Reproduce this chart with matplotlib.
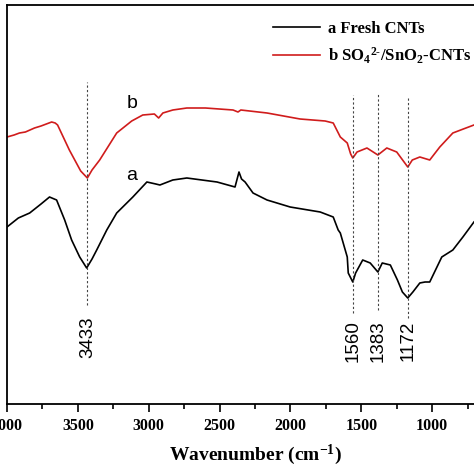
import matplotlib
matplotlib.use("Agg")
import matplotlib.pyplot as plt
import numpy as np

plt.rcParams['font.family'] = ['Liberation Serif', 'DejaVu Serif']
plt.rcParams['mathtext.fontset'] = 'custom'
plt.rcParams['mathtext.rm'] = 'Liberation Serif:bold'
plt.rcParams['mathtext.bf'] = 'Liberation Serif:bold'
plt.rcParams['mathtext.default'] = 'rm'

# b: SO4/SnO2-CNTs (red)
wn_b = [4000, 3950, 3912, 3870, 3806, 3760, 3685, 3660, 3643, 3560, 3480, 3433, 3400, 3346,
        3226, 3120, 3042, 2960, 2930, 2900, 2830, 2731, 2600, 2405, 2370, 2350, 2165,
        1932, 1755, 1698, 1648, 1599, 1575, 1560, 1530, 1460, 1383, 1320, 1250, 1172,
        1140, 1087, 1017, 946, 854, 780, 705]
t_b = [267, 269, 271, 272, 276, 278, 282, 281, 279, 254, 233, 226, 234, 244,
       271, 283, 289, 290, 286, 291, 294, 296, 296, 294, 292, 294, 291,
       285, 283, 281, 267, 261, 250, 246, 252, 256, 249, 256, 252, 237,
       244, 247, 244, 257, 271, 275, 279]

# a: fresh CNTs (black)
wn_a = [4000, 3920, 3840, 3760, 3700, 3650, 3593, 3544, 3487, 3438, 3400, 3367, 3296,
        3226, 3112, 3013, 2950, 2921, 2830, 2731, 2518, 2391, 2363, 2345, 2320, 2264,
        2165, 2002, 1790, 1698, 1663, 1648, 1599, 1592, 1560, 1540, 1490, 1437, 1383,
        1352, 1295, 1245, 1210, 1172, 1136, 1087, 1050, 1017, 932, 854, 783, 705]
t_a = [177, 186, 191, 200, 207, 204, 184, 164, 147, 136, 145, 154, 174,
       191, 207, 222, 220, 219, 224, 226, 222, 217, 232, 225, 222, 211,
       204, 197, 192, 187, 174, 171, 147, 131, 122, 131, 144, 141, 132,
       141, 139, 124, 112, 106, 112, 121, 122, 122, 147, 154, 167, 182]

peaks = [3433, 1560, 1383, 1172]
peak_top = [322, 309, 311, 308]
peak_bot = [99, 91, 94, 86]
peak_lab_y = [67, 63, 63, 63]

fig = plt.figure(figsize=(4.74, 4.74), dpi=100)
ax = fig.add_axes([7 / 474, 70 / 474, 496 / 474, 399 / 474])

ax.plot(wn_a, t_a, color='black', lw=1.2, label='a Fresh CNTs')
ax.plot(wn_b, t_b, color='#d01c1c', lw=1.2, label=r'b SO$_4$$^{2\text{-}}$/SnO$_2$-CNTs')

for p, y0, y1, yl in zip(peaks, peak_top, peak_bot, peak_lab_y):
    ax.plot([p, p], [y1, y0], color='#444444', lw=0.8, ls=(0, (2, 2)))
    ax.text(p, yl, str(p), rotation=90, ha='center', va='center', fontsize=13.5,
            family='Liberation Sans')

ax.text(3120, 301, 'b', ha='center', va='center', fontsize=14, family='Liberation Sans')
ax.text(3120, 229, 'a', ha='center', va='center', fontsize=14, family='Liberation Sans')

ax.set_xlim(4000, 500)
ax.set_ylim(0, 399)
ax.set_xticks([4000, 3500, 3000, 2500, 2000, 1500, 1000])
ax.set_xticks(np.arange(3750, 500, -500), minor=True)
ax.set_yticks([])
ax.tick_params(axis='x', which='major', direction='out', length=6, width=1.2, pad=4,
               labelsize=11.5)
ax.tick_params(axis='x', which='minor', direction='out', length=3.5, width=1.2)
for lab in ax.get_xticklabels():
    lab.set_fontweight('bold')
for s in ax.spines.values():
    s.set_linewidth(1.3)

ax.set_xlabel(r'Wavenumber (cm$^{-1}$)', fontsize=14, fontweight='bold', labelpad=6)

leg = ax.legend(loc='upper left', bbox_to_anchor=(273 / 474, 1 - 21 / 474),
                bbox_transform=fig.transFigure, frameon=False,
                prop={'weight': 'bold', 'size': 12}, handlelength=2.8,
                handletextpad=0.5, labelspacing=0.5, borderpad=0, borderaxespad=0)

fig.savefig('out.png', dpi=100)
